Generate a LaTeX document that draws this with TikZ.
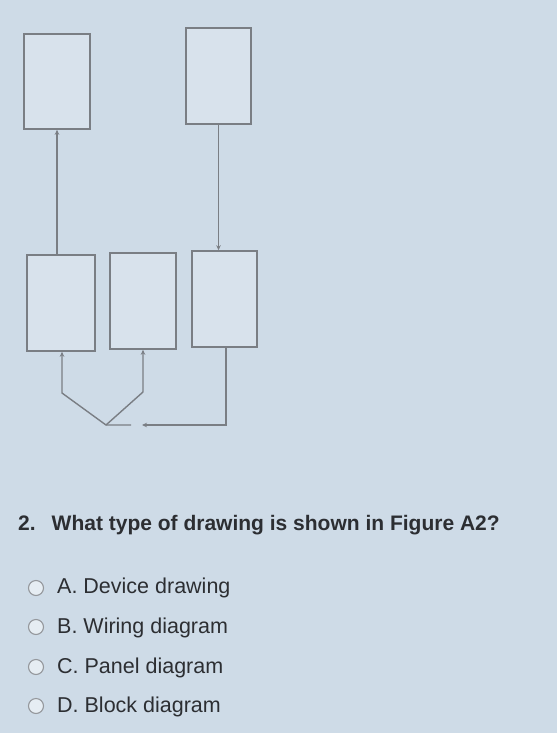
\documentclass[tikz,border=0pt]{standalone}
\usepackage{fontspec}
\setmainfont{Liberation Sans}
\usetikzlibrary{arrows.meta}
\definecolor{bg}{RGB}{206,219,231}
\definecolor{ln}{RGB}{122,126,132}
\definecolor{txt}{RGB}{44,46,50}
\tikzset{
  blk/.style={draw=ln, line width=1.6pt, fill=bg!80!white, minimum width=#1, inner sep=0pt},
  arr/.style={draw=ln, line width=1.4pt, -{Stealth[length=5pt,width=4.5pt]}},
  radio/.style={circle, draw=ln!80, line width=1.1pt, fill=bg!50!white, minimum size=15pt, inner sep=0pt},
  opt/.style={anchor=base west, text=txt, font=\fontsize{21.5}{24}\selectfont, inner sep=0pt}
}
\begin{document}
\begin{tikzpicture}[x=1pt,y=-1pt]
\fill[bg] (0,0) rectangle (557,733);
\useasboundingbox (0,0) rectangle (557,733);
% blocks
\node[blk=66pt, minimum height=95pt] (tl) at (57,81.5) {};
\node[blk=65pt, minimum height=96pt] (tr) at (218.5,76) {};
\node[blk=68pt, minimum height=96pt] (b1) at (61,303) {};
\node[blk=66pt, minimum height=96pt] (b2) at (143,301) {};
\node[blk=65pt, minimum height=96pt] (b3) at (224.5,299) {};
% connectors
\draw[arr] (tl.south |- b1.north) -- (tl.south);
\draw[arr] (tr.south) -- (tr.south |- b3.north);
\coordinate (j) at (106,425);
\coordinate (e1) at (62,393);
\coordinate (e2) at (143,392);
\coordinate (jt) at (131,425);
\coordinate (ar) at (142,425);
\draw[arr] (jt) -- (j) -- (e1) -- (e1 |- b1.south);
\draw[arr] (j) -- (e2) -- (e2 |- b2.south);
\draw[arr] ([xshift=1.5pt]b3.south) -- ([xshift=1.5pt]b3.south |- ar) -- (ar);
% question
\node[anchor=base west, text=txt, font=\bfseries\fontsize{21}{25}\selectfont, inner sep=0pt] (q) at (18,530) {2.\hspace{16pt}What type of drawing is shown in Figure A2?};
% options
\node[radio] (ra) at (36,588) {};
\node[radio] (rb) at (36,627) {};
\node[radio] (rc) at (36,667) {};
\node[radio] (rd) at (36,706) {};
\node[opt] (ta) at (57,593) {A. Device drawing};
\node[opt] (tb) at (57,633) {B. Wiring diagram};
\node[opt] (tc) at (57,673) {C. Panel diagram};
\node[opt] (td) at (57,712) {D. Block diagram};
\end{tikzpicture}
\end{document}
